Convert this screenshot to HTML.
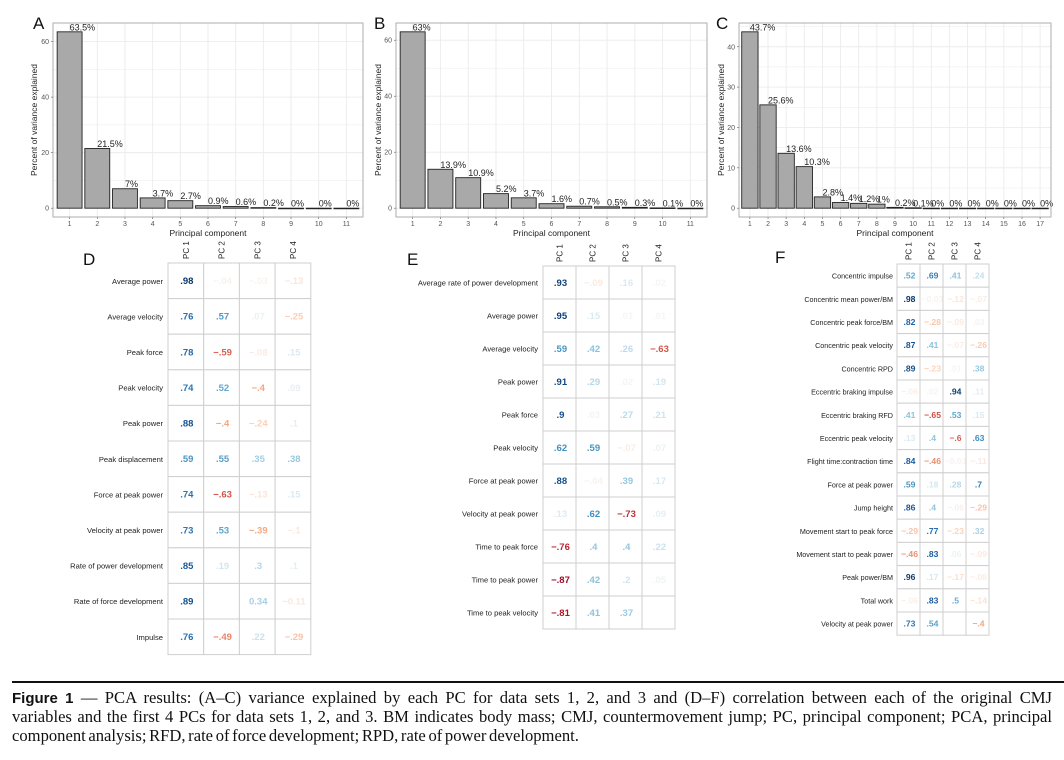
<!DOCTYPE html>
<html><head><meta charset="utf-8"><style>
html,body{margin:0;padding:0;background:#fff;width:1064px;height:760px;overflow:hidden}
svg{display:block;font-family:"Liberation Sans",sans-serif}
#cap{position:absolute;left:12px;top:688px;font-family:"Liberation Serif",serif;font-size:16.6px;line-height:19px;color:#111;word-spacing:-1.5px}
#cap .ln{width:1040px;white-space:nowrap;height:19px;overflow:visible}
#cap .j{text-align:justify;text-align-last:justify;white-space:normal}
#cap b{font-family:"Liberation Sans",sans-serif;font-size:15px}
</style></head><body>
<svg id="fig" width="1064" height="760"></svg>
<div id="cap">
<div class="ln j"><b>Figure 1</b> — PCA results: (A–C) variance explained by each PC for data sets 1, 2, and 3 and (D–F) correlation between each of the original CMJ</div>
<div class="ln j">variables and the first 4 PCs for data sets 1, 2, and 3. BM indicates body mass; CMJ, countermovement jump; PC, principal component; PCA, principal</div>
<div class="ln">component analysis; RFD, rate of force development; RPD, rate of power development.</div>
</div>
<script>
const aVals=[63.5,21.5,7,3.7,2.7,0.9,0.6,0.2,0,0,0];
const bVals=[63,13.9,10.9,5.2,3.7,1.6,0.7,0.5,0.3,0.1,0];
const cVals=[43.7,25.6,13.6,10.3,2.8,1.4,1.2,1,0.2,0.1,0,0,0,0,0,0,0];
const aTicks=[0,20,40,60];
const bTicks=[0,20,40,60];
const cTicks=[0,10,20,30,40];
const pcHeaders=["PC 1","PC 2","PC 3","PC 4"];
const dRows=["Average power","Average velocity","Peak force","Peak velocity","Peak power","Peak displacement","Force at peak power","Velocity at peak power","Rate of power development","Rate of force development","Impulse"];
const dVals=[[".98","−.04","−.03","−.13"],[".76",".57",".07","−.25"],[".78","−.59","−.08",".15"],[".74",".52","−.4",".09"],[".88","−.4","−.24",".1"],[".59",".55",".35",".38"],[".74","−.63","−.13",".15"],[".73",".53","−.39","−.1"],[".85",".19",".3",".1"],[".89","","0.34","−0.11"],[".76","−.49",".22","−.29"]];
const eRows=["Average rate of power development","Average power","Average velocity","Peak power","Peak force","Peak velocity","Force at peak power","Velocity at peak power","Time to peak force","Time to peak power","Time to peak velocity"];
const eVals=[[".93","−.09",".16",".02"],[".95",".15",".01",".01"],[".59",".42",".26","−.63"],[".91",".29",".02",".19"],[".9",".03",".27",".21"],[".62",".59","−.07",".07"],[".88","−.04",".39",".17"],[".13",".62","−.73",".09"],["−.76",".4",".4",".22"],["−.87",".42",".2",".05"],["−.81",".41",".37",""]];
const fRows=["Concentric impulse","Concentric mean power/BM","Concentric peak force/BM","Concentric peak velocity","Concentric RPD","Eccentric braking impulse","Eccentric braking RFD","Eccentric peak velocity","Flight time:contraction time","Force at peak power","Jump height","Movement start to peak force","Movement start to peak power","Peak power/BM","Total work","Velocity at peak power"];
const fVals=[[".52",".69",".41",".24"],[".98","−0.03","−.12","−.07"],[".82","−.28","−.09",".03"],[".87",".41","−.07","−.26"],[".89","−.23",".01",".38"],["−.06",".02",".94",".11"],[".41","−.65",".53",".15"],[".13",".4","−.6",".63"],[".84","−.46","−0.03","−.11"],[".59",".18",".28",".7"],[".86",".4","−.06","−.29"],["−.29",".77","−.23",".32"],["−.46",".83",".06","−.09"],[".96",".17","−.17","−.08"],["−.06",".83",".5","−.14"],[".73",".54","","−.4"]];

const NS="http://www.w3.org/2000/svg";
const svg=document.getElementById('fig');
function el(tag,attrs,parent,txt){const e=document.createElementNS(NS,tag);for(const k in attrs)e.setAttribute(k,attrs[k]);if(txt!==undefined)e.textContent=txt;(parent||svg).appendChild(e);return e;}

function barChart(id,vals,ticks,L,R,T,B,zeroY,letter,letterX,titleX){
  const g=el('g',{},svg);
  
  
  const n=vals.length, mx=Math.max(...vals);
  const lo=-mx*0.05, hi=mx*1.05;
  const y=v=>B-(v-lo)/(hi-lo)*(B-T);
  const sp=(R-L)/(n+0.2);
  const x=i=>L+sp*(0.6+i);
  const step=ticks[1]-ticks[0];
  for(let v=ticks[0]-step/2;v<hi;v+=step/2){if(v<lo)continue;el('line',{x1:L,x2:R,y1:y(v),y2:y(v),stroke:'#ebebeb','stroke-width':Math.abs((v/step)%1)<1e-6?0.9:0.5},g);}
  for(let i=0;i<n;i++){el('line',{x1:x(i),x2:x(i),y1:T,y2:B,stroke:'#ebebeb','stroke-width':0.9},g);}
  for(let i=0;i<n;i++){
    const b=el('rect',{x:x(i)-sp*0.45,y:y(vals[i]),width:sp*0.9,height:Math.max(0.6,y(0)-y(vals[i])),fill:'#a9a9a9',stroke:'#222','stroke-width':0.9},g);
    
    
    const t=el('text',{x:x(i),y:y(vals[i])-1.5,'font-size':9,fill:'#222'},g,vals[i]+'%');
    
    
    el('line',{x1:x(i),x2:x(i),y1:B,y2:B+2,stroke:'#555','stroke-width':0.6},g);
    el('text',{x:x(i),y:B+9,'font-size':7,fill:'#555','text-anchor':'middle'},g,String(i+1));
  }
  ticks.forEach(v=>{el('line',{x1:L-2,x2:L,y1:y(v),y2:y(v),stroke:'#555','stroke-width':0.6},g);
    el('text',{x:L-4,y:y(v)+2.5,'font-size':7,fill:'#555','text-anchor':'end'},g,String(v));});
  el('rect',{x:L,y:T,width:R-L,height:B-T,fill:'none',stroke:'#999','stroke-width':0.8},g);
  const xt=el('text',{x:(L+R)/2,y:B+19,'font-size':8.5,fill:'#222','text-anchor':'middle'},g,'Principal component');
  
  
  const yt=el('text',{x:titleX,y:(T+B)/2,'font-size':8.5,fill:'#222','text-anchor':'middle',transform:`rotate(-90 ${titleX} ${(T+B)/2})`},g,'Percent of variance explained');
  
  
  const lt=el('text',{x:letterX,y:T+6,'font-size':17,fill:'#111'},g,letter);
  
  
}
barChart('a',aVals,aTicks,53,363,23,217,208,'A',33,37);
barChart('b',bVals,bTicks,396,707,23,217,208,'B',374,381);
barChart('c',cVals,cTicks,739,1051,23,217,208,'C',716,724);

const stops=[[-1,[103,0,31]],[-0.8,[178,24,43]],[-0.6,[214,96,77]],[-0.4,[244,165,130]],[-0.2,[253,219,199]],[0,[247,247,247]],[0.2,[209,229,240]],[0.4,[146,197,222]],[0.6,[67,147,195]],[0.8,[33,102,172]],[1,[5,48,97]]];
function col(v){v=Math.max(-1,Math.min(1,v));for(let i=0;i<stops.length-1;i++){const[a,ca]=stops[i],[b,cb]=stops[i+1];if(v<=b){const t=(v-a)/(b-a);return 'rgb('+ca.map((c,k)=>Math.round(c+(cb[k]-c)*t)).join(',')+')';}}return 'rgb(5,48,97)';}

function table(id,rows,vals,L,T,cw,rh,labelR,lfs,vfs,letter,lx,ly){
  const g=el('g',{},svg);
  
  
  pcHeaders.forEach((h,j)=>{const cx=L+cw*(j+0.5)+3;
    const t=el('text',{x:cx,y:T-4,'font-size':8,fill:'#222',transform:`rotate(-90 ${cx} ${T-4})`},g,h);
    
    });
  rows.forEach((r,i)=>{const cy=T+rh*(i+0.5);
    const t=el('text',{x:labelR,y:cy+3,'font-size':lfs,fill:'#222','text-anchor':'end'},g,r);
    
    
    vals[i].forEach((s,j)=>{
      const c=el('rect',{x:L+cw*j,y:T+rh*i,width:cw,height:rh,fill:'#fff',stroke:'#cfcfcf','stroke-width':1},g);
      
      
      if(s!==''){const v=parseFloat(s.replace('−','-'));
        const vt=el('text',{x:L+cw*(j+0.5)+1,y:cy+vfs*0.35,'font-size':vfs,'font-weight':'bold',fill:col(v),'text-anchor':'middle'},g,s);
        
        }
    });});
  const lt=el('text',{x:lx,y:ly,'font-size':17,fill:'#111'},g,letter);
  
  
}
table('d',dRows,dVals,168,263,35.7,35.6,163,7.6,9.5,'D',83,265);
table('e',eRows,eVals,543,266,33,33.0,538,7.6,9.5,'E',407,265);
table('f',fRows,fVals,897,264,23,23.2,893,7.2,8.6,'F',775,263);

const hr=el('line',{x1:12,x2:1064,y1:682,y2:682,stroke:'#111','stroke-width':2});


</script>
</body></html>
